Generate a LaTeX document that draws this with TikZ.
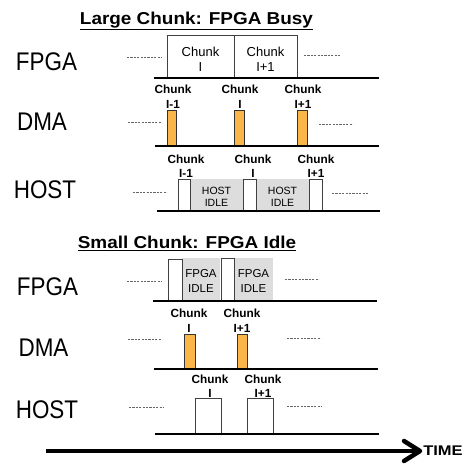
\documentclass[tikz,border=0pt]{standalone}
\usepackage{fontspec}
\setmainfont{Liberation Sans}
\usetikzlibrary{arrows.meta}
\definecolor{barorange}{RGB}{250,182,72}
\definecolor{idlegray}{RGB}{221,221,221}
\newcommand\rowtxt[1]{\scalebox{0.88}[1]{#1}}
\newcommand\ttltxt[1]{\scalebox{1.1}[1]{\underline{#1}}}
\begin{document}
\begin{tikzpicture}[x=1pt,y=-1pt,
 rowlbl/.style={font=\fontsize{25.5}{28}\selectfont, inner sep=0},
 ttl/.style={font=\fontsize{17.2}{20}\selectfont\bfseries, inner sep=0},
 wbox/.style={draw=black!75, fill=white, line width=0.6pt, inner sep=0, outer sep=0, anchor=south west},
 gbox/.style={fill=idlegray, inner sep=0, outer sep=0, anchor=south west},
 obar/.style={draw=black!80, fill=barorange, line width=0.6pt, inner sep=0, outer sep=0, anchor=south west},
 base/.style={line width=1.6pt},
 dots/.style={draw=black!60, dash pattern=on 2.2pt off 1.2pt, line width=0.8pt},
 chl/.style={font=\fontsize{11.8}{14.5}\selectfont\bfseries, align=center, inner sep=0},
 inl/.style={font=\fontsize{13}{15}\selectfont, align=center, inner sep=0},
 idl/.style={font=\fontsize{10.5}{11.5}\selectfont, align=center, inner sep=0},
 fidl/.style={font=\fontsize{11.5}{15}\selectfont, align=center, inner sep=0},
 timeline/.style={line width=4.5pt, line cap=round, line join=round},
]
\useasboundingbox[fill=white] (0,0) rectangle (474,474);

% ---------- Large chunk ----------
\node[ttl] (t1) at (196.5,21) {\ttltxt{Large Chunk: FPGA Busy}};
\node[rowlbl] (lf) at (46.5,62) {\rowtxt{FPGA}};
\node[rowlbl] (ld) at (42,122) {\rowtxt{DMA}};
\node[rowlbl] (lh) at (45,190) {\rowtxt{HOST}};

% FPGA row
\draw[dots] (127,57) -- (162,57);
\draw[dots] (304,55) -- (340,55);
\node[wbox, minimum width=67pt, minimum height=43pt] (F1) at (167,78) {};
\node[wbox, minimum width=63pt, minimum height=43pt] (F2) at (234,78) {};
\node[inl] at ([yshift=-3pt]F1.center) {Chunk\\I};
\node[inl] at ([yshift=-3pt]F2.center) {Chunk\\I+1};
\draw[base] (154,78) -- (379,78);

% DMA row
\draw[dots] (128,122) -- (162,122);
\draw[dots] (319,124) -- (353,124);
\node[obar, minimum width=9pt, minimum height=36pt] (D1) at (167,146) {};
\node[obar, minimum width=10pt, minimum height=36pt] (D2) at (234,146) {};
\node[obar, minimum width=10pt, minimum height=36pt] (D3) at (297,146) {};
\node[chl] at (173,96.5) {Chunk\\I-1};
\node[chl] at (240,96.5) {Chunk\\I};
\node[chl] at (303,96.5) {Chunk\\I+1};
\draw[base] (155,146) -- (379,146);

% HOST row
\draw[dots] (133,192) -- (167,192);
\draw[dots] (332,193) -- (368,193);
\node[gbox, minimum width=53pt, minimum height=32pt] (G1) at (190,211) {};
\node[gbox, minimum width=53pt, minimum height=32pt] (G2) at (256,211) {};
\node[wbox, minimum width=12pt, minimum height=32pt] (H1) at (178,211) {};
\node[wbox, minimum width=13pt, minimum height=32pt] (H2) at (243,211) {};
\node[wbox, minimum width=13pt, minimum height=32pt] (H3) at (309,211) {};
\node[idl] at ([yshift=-2pt]G1.center) {HOST\\IDLE};
\node[idl] at ([yshift=-2pt]G2.center) {HOST\\IDLE};
\node[chl] at (186,166) {Chunk\\I-1};
\node[chl] at (253,166) {Chunk\\I};
\node[chl] at (316,166) {Chunk\\I+1};
\draw[base] (157,211) -- (380,211);

% ---------- Small chunk ----------
\node[ttl] (t2) at (187,243.5) {\ttltxt{Small Chunk: FPGA Idle}};
\node[rowlbl] (sf) at (47.5,287) {\rowtxt{FPGA}};
\node[rowlbl] (sd) at (43.5,348) {\rowtxt{DMA}};
\node[rowlbl] (sh) at (47,410) {\rowtxt{HOST}};

% FPGA row
\draw[dots] (127,281) -- (162,281);
\draw[dots] (285,279) -- (319,279);
\node[gbox, minimum width=38pt, minimum height=43pt] (SG1) at (182,301) {};
\node[gbox, minimum width=39pt, minimum height=43pt] (SG2) at (234,301) {};
\node[wbox, minimum width=14pt, minimum height=42pt] (SF1) at (168,301) {};
\node[wbox, minimum width=13pt, minimum height=43pt] (SF2) at (221,301) {};
\node[fidl] at ([yshift=-1pt]SG1.center) {FPGA\\IDLE};
\node[fidl] at ([yshift=-1pt]SG2.center) {FPGA\\IDLE};
\draw[base] (153,301) -- (377,301);

% DMA row
\draw[dots] (128,339) -- (162,339);
\draw[dots] (287,338) -- (321,338);
\node[obar, minimum width=11pt, minimum height=35pt] (SD1) at (184,369) {};
\node[obar, minimum width=10pt, minimum height=35pt] (SD2) at (237,369) {};
\node[chl] at (189,320.5) {Chunk\\I};
\node[chl] at (242,320.5) {Chunk\\I+1};
\draw[base] (154,369) -- (378,369);

% HOST row
\draw[dots] (129,407) -- (164,407);
\draw[dots] (287,406) -- (322,406);
\node[wbox, minimum width=26pt, minimum height=36pt] (SH1) at (195,434) {};
\node[wbox, minimum width=26pt, minimum height=36pt] (SH2) at (247,434) {};
\node[chl] at (210,386) {Chunk\\I};
\node[chl] at (263,386) {Chunk\\I+1};
\draw[base] (155,434) -- (379,434);

% ---------- Time arrow ----------
\coordinate (ta) at (46,451);
\coordinate (tb) at (420,451);
\node[font=\fontsize{14}{16}\selectfont\bfseries, inner sep=0] (time) at (443,451) {\scalebox{1.18}[1]{TIME}};
\draw[line width=4.5pt] (ta) -- ([xshift=-2pt]tb);
\draw[timeline] ([shift={(-16pt,10pt)}]tb) -- (tb) -- ([shift={(-16pt,-10pt)}]tb);
\end{tikzpicture}
\end{document}
